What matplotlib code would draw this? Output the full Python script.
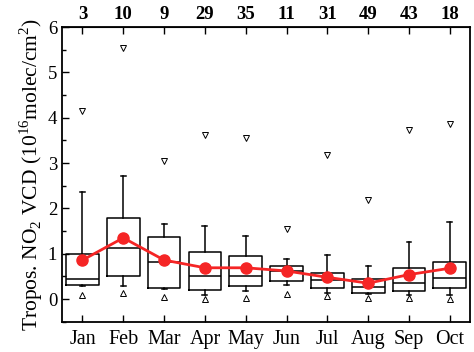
import matplotlib
matplotlib.use('Agg')
import matplotlib.pyplot as plt
import numpy as np

plt.rcParams['font.family'] = ['Liberation Serif', 'DejaVu Serif']
plt.rcParams['mathtext.fontset'] = 'custom'
plt.rcParams['mathtext.rm'] = 'Liberation Serif'

# Monthly statistics
months = ['Jan', 'Feb', 'Mar', 'Apr', 'May', 'Jun', 'Jul', 'Aug', 'Sep', 'Oct']
counts = [3, 10, 9, 29, 35, 11, 31, 49, 43, 18]
vmax = [4.15, 5.54, 3.05, 3.63, 3.55, 1.55, 3.18, 2.19, 3.74, 3.87]
whis_hi = [2.36, 2.71, 1.66, 1.62, 1.40, 0.89, 0.97, 0.74, 1.26, 1.71]
q3 = [1.00, 1.79, 1.38, 1.03, 0.94, 0.73, 0.57, 0.45, 0.69, 0.82]
median = [0.44, 1.12, 0.82, 0.50, 0.50, 0.62, 0.41, 0.26, 0.36, 0.47]
q1 = [0.31, 0.50, 0.24, 0.21, 0.28, 0.39, 0.25, 0.13, 0.17, 0.24]
whis_lo = [0.28, 0.28, 0.22, 0.10, 0.17, 0.30, 0.13, 0.11, 0.10, 0.10]
vmin = [0.10, 0.13, 0.05, 0.01, 0.02, 0.11, 0.06, 0.02, 0.02, 0.01]
mean = [0.86, 1.35, 0.86, 0.69, 0.69, 0.62, 0.48, 0.35, 0.54, 0.68]

x = np.arange(1, len(months) + 1)

stats = []
for i in range(len(months)):
    stats.append({'med': median[i], 'q1': q1[i], 'q3': q3[i],
                  'whislo': whis_lo[i], 'whishi': whis_hi[i], 'fliers': []})

fig = plt.figure(figsize=(4.74, 3.52), dpi=100)
ax = fig.add_axes([0.131, 0.086, 0.861, 0.837])

ax.bxp(stats, positions=x, widths=0.8, showfliers=False, capwidths=0.12,
       boxprops=dict(color='black', linewidth=1.1),
       medianprops=dict(color='black', linewidth=1.1),
       whiskerprops=dict(color='black', linewidth=1.1),
       capprops=dict(color='black', linewidth=1.1))

# max / min markers
ax.plot(x, vmax, linestyle='none', marker='v', markersize=4,
        markerfacecolor='white', markeredgecolor='black', markeredgewidth=0.7)
ax.plot(x, vmin, linestyle='none', marker='^', markersize=4,
        markerfacecolor='white', markeredgecolor='black', markeredgewidth=0.7)

# mean line
ax.plot(x, mean, color='#f52525', linewidth=2, marker='o', markersize=8, zorder=5)

ax.set_xlim(0.5, 10.5)
ax.set_ylim(-0.5, 6)
ax.set_xticks(x)
ax.set_xticklabels(months, fontsize=14.5)
ax.set_yticks(np.arange(0, 7, 1))
ax.set_yticks(np.arange(-0.5, 6, 0.5), minor=True)
ax.tick_params(axis='y', labelsize=13.5, direction='in', length=5, width=1)
ax.tick_params(axis='y', which='minor', direction='in', length=3, width=1)
ax.tick_params(axis='x', direction='in', length=5, width=1, pad=6)
ax.set_ylabel(r'Tropos. NO$_2$ VCD (10$^{16}$molec/cm$^2$)', fontsize=15.5, labelpad=2)

top = ax.secondary_xaxis('top')
top.set_xticks(x)
top.set_xticklabels([str(c) for c in counts], fontsize=13.5, fontweight='bold')
top.tick_params(direction='in', length=5, width=1, pad=3)

for s in ax.spines.values():
    s.set_linewidth(1.3)

fig.savefig('out.png', dpi=100)
